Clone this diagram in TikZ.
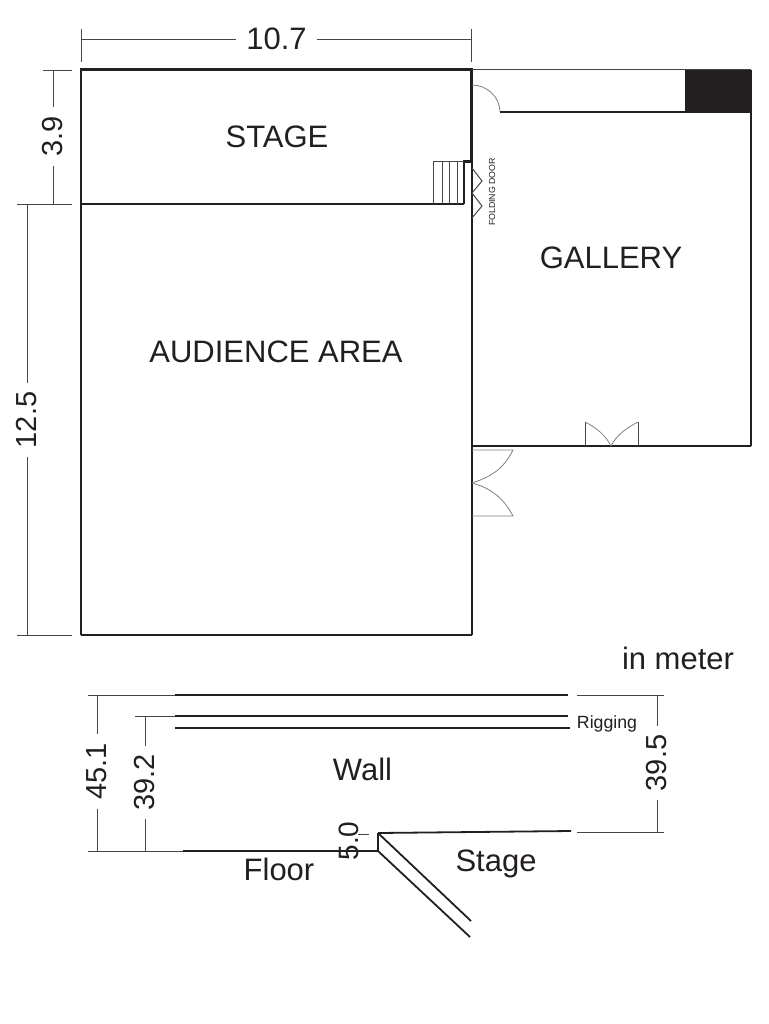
\documentclass[tikz,border=0pt]{standalone}
\usepackage{fontspec}
\setmainfont{Liberation Sans}
\definecolor{grisWall}{RGB}{35, 31, 32}
\definecolor{grisThin}{RGB}{70, 70, 70}
\usetikzlibrary{calc}
\tikzstyle{heavy}=[line width=3pt, grisWall, line cap=rect, line join=miter]
\tikzstyle{wall}=[line width=1.6pt, grisWall]
\tikzstyle{thinwall}=[line width=1pt, grisThin]
\tikzstyle{swing}=[line width=0.8pt, gray]
\tikzstyle{dimline}=[line width=0.8pt, grisThin]
\tikzstyle{bigtext}=[inner sep=0pt, font=\fontsize{31}{31}\selectfont, grisWall]
\tikzstyle{dimtext}=[inner sep=9pt, font=\fontsize{29}{29}\selectfont, grisWall, rotate=90]

\begin{document}
\begin{tikzpicture}[x=1pt,y=-1pt]
    \useasboundingbox (0,0) rectangle (768,1024);

    %plan, corners
    \foreach \n/\x/\y in {a1/81/70,a2/471.5/70,a3/471.5/162,a4/464/162,a5/464/204,a6/81/204,
        a7/81/635,a8/472/635,a9/472/162,g1/751/70,g2/751/112,g3/500/112,g4/751/446,g5/472/446,
        g6/472/85,g7/685/70,s1/433/162,s2/433/204}
        \coordinate (\n) at (\x,\y);

    %stage and audience
    \draw[heavy] (a1) -- (a2) -- (a3) -- (a4);
    \foreach \i/\j in {a4/a5,a5/a6}
        \draw[wall] (\i) to (\j);
    \draw[wall] (a6) -- (a1);
    \foreach \i/\j in {a6/a7,a7/a8,a8/a9}
        \draw[wall,line width=1.2pt] (\i) to (\j);

    %stairs
    \draw[thinwall] (s1) -- (a4);
    \foreach \i in {433,442,449,457}
        \draw[thinwall] (\i,162) -- (\i,204);

    %folding door
    \draw[thinwall] (472,168) -- (482,181) -- (472,193) -- (482,206) -- (472,218);
    \draw (492,192) node (folding) [inner sep=0pt, rotate=90, grisWall, font=\fontsize{8.8}{9}\selectfont] {FOLDING DOOR};

    %gallery
    \draw[thinwall] (a2) -- (g1);
    \draw[wall] (g3) -- (g2);
    \draw[wall] (g1) -- (g4);
    \draw[wall,line width=1.9pt] (g4) -- (g5);
    \fill[grisWall] (g7) rectangle (g2);
    \draw[swing] (g6) .. controls (487,85) and (500,97) .. (g3);

    %gallery door
    \foreach \i in {585,638}
        \draw[thinwall] (\i,422) -- (\i,446);
    \draw[swing] (585,422) .. controls (597,428) and (606,436) .. (611,446);
    \draw[swing] (638,422) .. controls (626,428) and (616,436) .. (611,446);

    %side door
    \draw[swing] (472,450) -- (513,450) .. controls (503,470) and (490,477) .. (472,483);
    \draw[swing] (472,483) .. controls (490,488) and (503,497) .. (513,516) -- (472,516);

    %room names
    \draw (277,137) node (stage) [bigtext] {STAGE};
    \draw (276,352) node (audience) [bigtext] {AUDIENCE AREA};
    \draw (611,258) node (gallery) [bigtext] {GALLERY};
    \draw (678,658) node (unit) [bigtext] {in meter};

    %plan, dimensions
    \draw (276.5,39) node (w) [bigtext, inner sep=10pt] {10.7};
    \draw (53,136.5) node (h1) [dimtext, inner sep=9pt] {3.9};
    \draw (27,420) node (h2) [dimtext] {12.5};
    \foreach \n/\x/\y in {w1/81/39,w2/471/39,h1a/53/70,h1b/53/204,h2a/27/204,h2b/27/635}
        \coordinate (\n) at (\x,\y);
    \draw[dimline] (w1) -- (w) -- (w2);
    \draw[dimline] (h1a) -- (h1) -- (h1b);
    \draw[dimline] (h2a) -- (h2) -- (h2b);
    \foreach \x in {81,471}
        \draw[dimline] (\x,29) -- (\x,62);
    \draw[dimline] (43,70) -- (72,70);
    \draw[dimline] (17,204) -- (72,204);
    \draw[dimline] (17,635) -- (72,635);

    %section, corners
    \foreach \n/\x/\y in {r1/175/695,r2/568/695,r3/175/716,r4/568/716,r5/175/728,r6/570/728,
        f1/183/851,f2/378/851,t1/378/833,t2/571/831,p1/471/921,p2/470/937,
        d1/97/695,d2/97/851,d3/145/716,d4/145/851,d5/657/695,d6/657/832}
        \coordinate (\n) at (\x,\y);

    %rigging, floor and stage
    \foreach \i/\j in {r1/r2,f1/f2,t1/t2,t1/p1,f2/p2}
        \draw[wall,line width=1.8pt] (\i) to (\j);
    \foreach \i/\j in {r3/r4,r5/r6}
        \draw[wall,line width=2.2pt] (\i) to (\j);
    \draw[wall,line width=2.4pt] (t1) -- (f2);

    %section, dimensions
    \draw (97,771.5) node (sa) [dimtext] {45.1};
    \draw (145,782.5) node (sb) [dimtext, inner sep=8pt] {39.2};
    \draw (657,763) node (sc) [dimtext] {39.5};
    \draw (349,841) node (sd) [dimtext, inner sep=0pt, font=\fontsize{28}{28}\selectfont] {5.0};
    \foreach \i/\j/\k in {d1/sa/d2,d3/sb/d4,d5/sc/d6}
        \draw[dimline] (\i) -- (\j) -- (\k);
    \draw[dimline] (88,695) -- (r1);
    \draw[dimline] (135,716) -- (r3);
    \draw[dimline] (88,851) -- (f1);
    \draw[dimline] (577,695) -- (664,695);
    \draw[dimline] (577,832) -- (664,832);
    \draw[dimline] (358,834) -- (369,834);

    %section, names
    \draw (362.5,769) node (wallname) [bigtext] {Wall};
    \draw (279,869) node (floorname) [bigtext] {Floor};
    \draw (496,864) node (stagename) [bigtext] {Stage};
    \draw (607,724) node (rigging) [inner sep=0pt, grisWall, font=\fontsize{17.7}{18}\selectfont] {Rigging};
\end{tikzpicture}
\end{document}
